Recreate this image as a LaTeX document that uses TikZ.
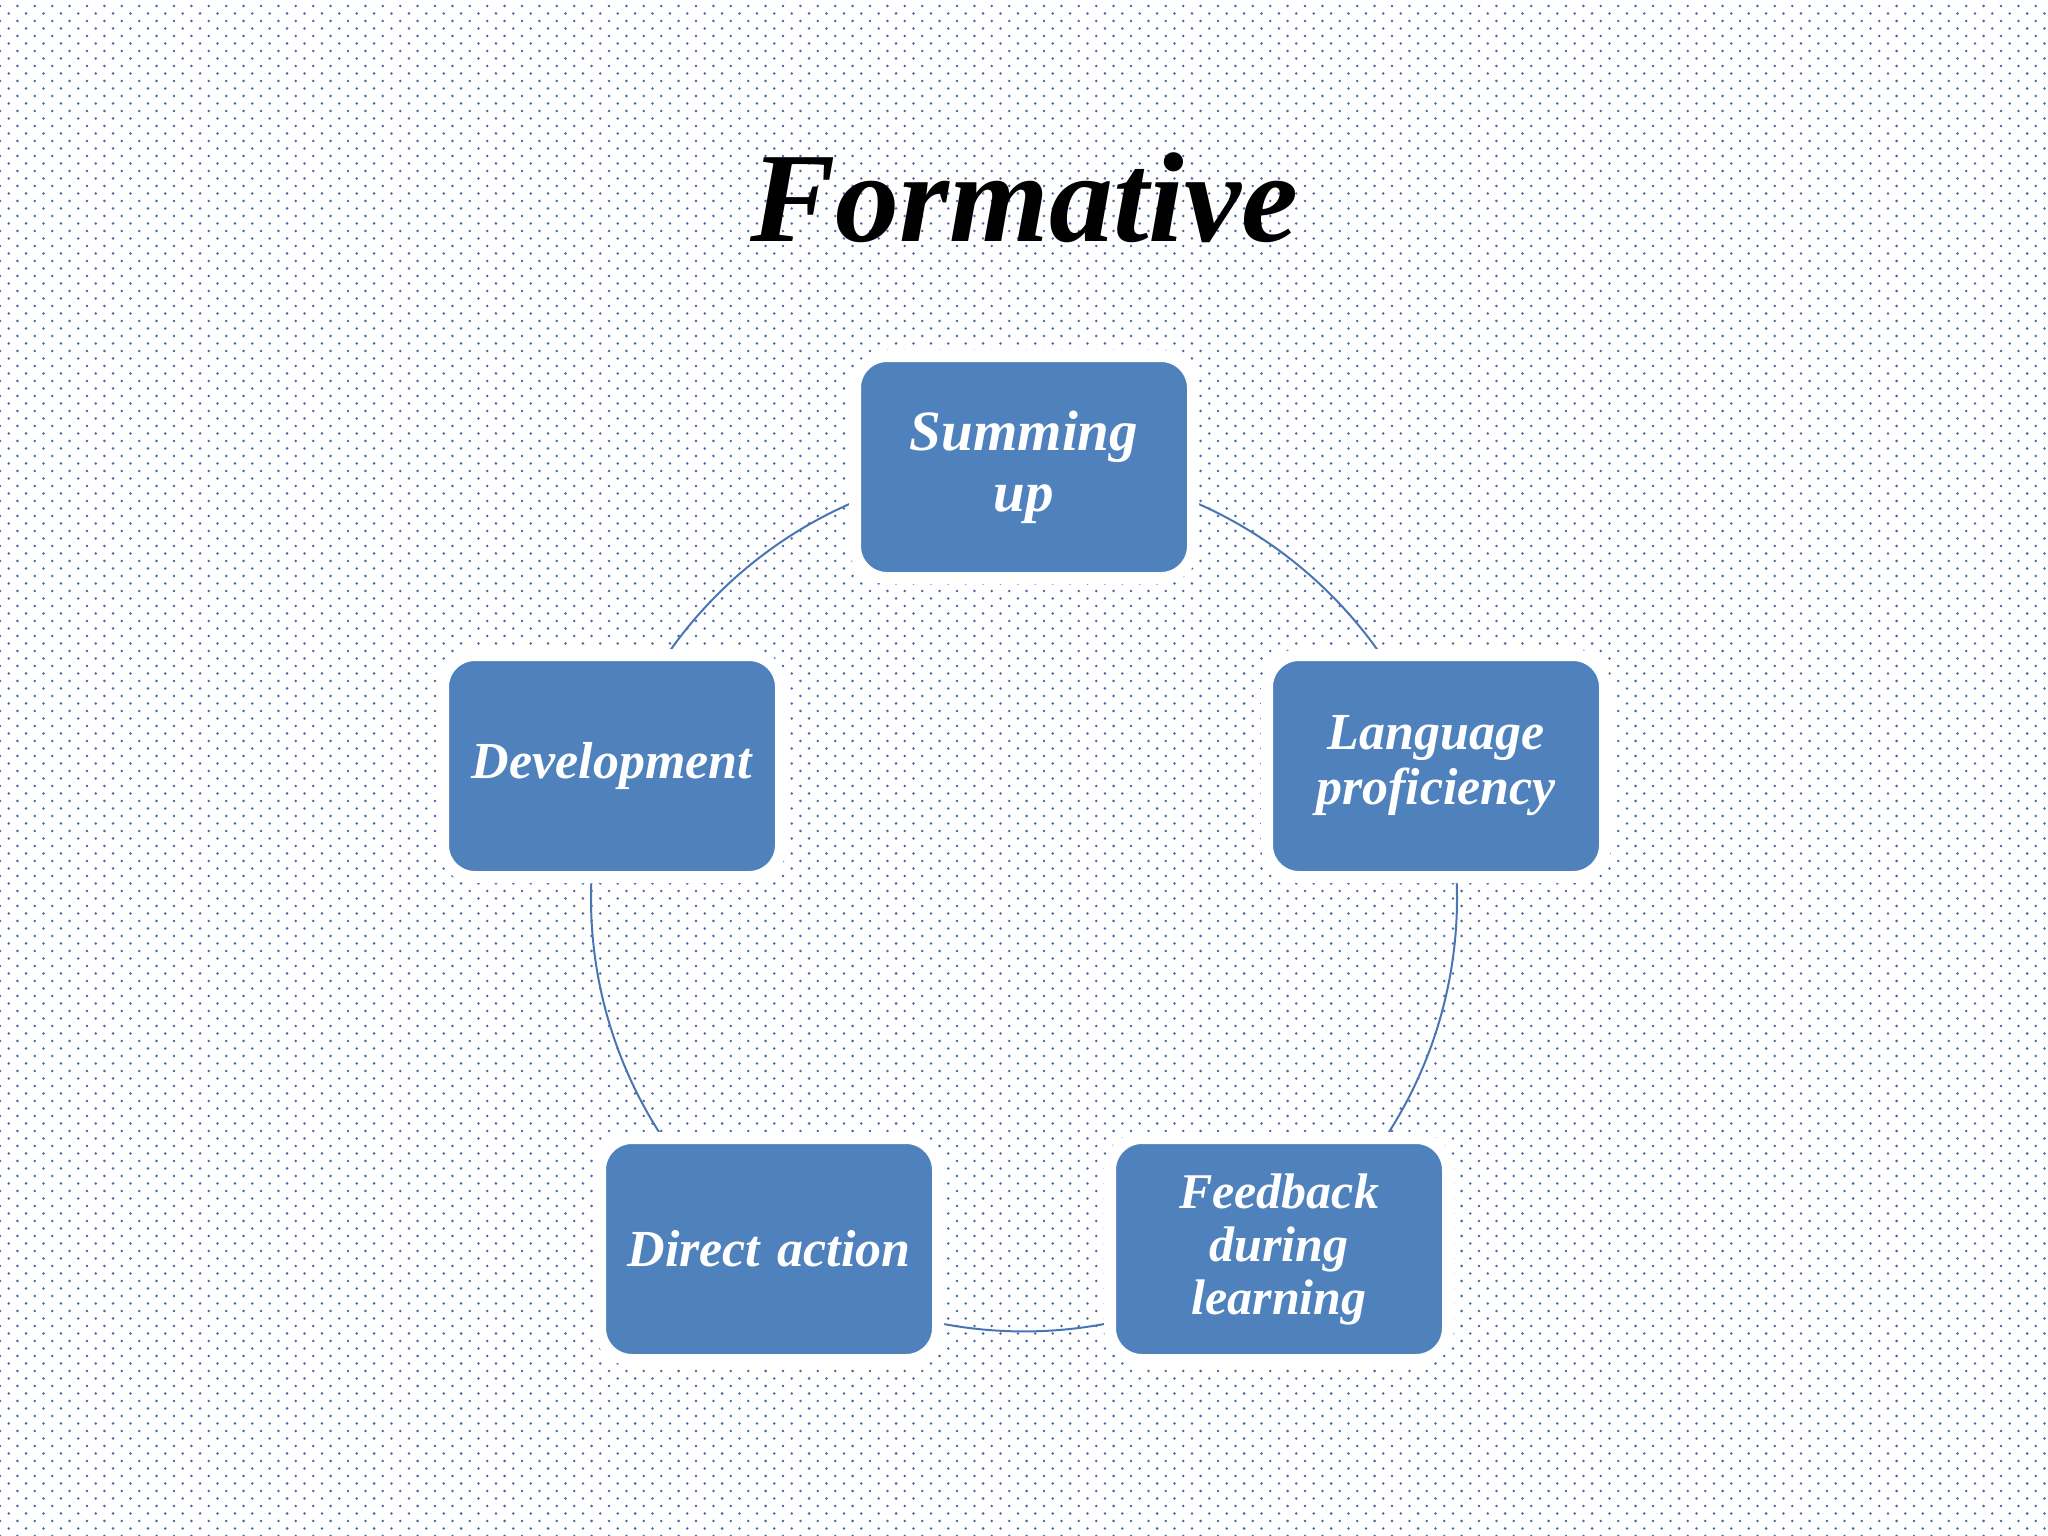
\documentclass[tikz,border=0pt]{standalone}
\usepackage{fontspec}
\setmainfont{Liberation Serif}
\usetikzlibrary{patterns}
\definecolor{boxblue}{HTML}{4F81BD}
\definecolor{dotblue}{HTML}{4269AD}
\definecolor{arcblue}{HTML}{4A75B5}
\pgfdeclarelayer{bg}
\pgfsetlayers{bg,main}
\pgfdeclarepatternformonly{bgdots}{\pgfqpoint{-2pt}{-2pt}}{\pgfqpoint{19.4pt}{17pt}}{\pgfqpoint{17.4pt}{15pt}}{%
  \pgfpathcircle{\pgfqpoint{0pt}{0pt}}{1.4pt}%
  \pgfpathcircle{\pgfqpoint{8.7pt}{7.5pt}}{1.4pt}%
  \pgfusepath{fill}}
\tikzset{
  box/.style={rectangle, rounded corners=32pt, fill=boxblue, draw=white, line width=12pt,
    minimum width=338pt, minimum height=222pt, text width=310pt, align=center,
    font=\fontsize{52}{55}\selectfont\bfseries\itshape, text=white, inner sep=0pt},
  arcline/.style={draw=arcblue, line width=2pt, bend left=36, looseness=0.94},
  titlestyle/.style={font=\fontsize{128}{128}\selectfont\bfseries\itshape, text=black, inner sep=0pt}
}
\begin{document}
\begin{tikzpicture}[x=1pt, y=-1pt]
  \useasboundingbox (0,0) rectangle (2048,1536);
  \node[titlestyle] (title) at (1024,198) {Formative};
  \node[box, font=\fontsize{57}{61}\selectfont\bfseries\itshape] (sum) at (1024,467) {Summing\\up};
  \node[box] (lang) at (1436,766) {Language\\proficiency};
  \node[box, font=\fontsize{50}{53}\selectfont\bfseries\itshape] (feed) at (1279,1249) {Feedback\\during\\learning};
  \node[box] (direct) at (769,1249) {Direct action};
  \node[box] (dev) at (612,766) {Development};
  \begin{pgfonlayer}{bg}
    \fill[white] (0,0) rectangle (2048,1536);
    \fill[pattern=bgdots, pattern color=dotblue] (0,0) rectangle (2048,1536);
    \draw[arcline] (sum.center) to (lang.center);
    \draw[arcline] (lang.center) to (feed.center);
    \draw[arcline] (feed.center) to (direct.center);
    \draw[arcline] (direct.center) to (dev.center);
    \draw[arcline] (dev.center) to (sum.center);
  \end{pgfonlayer}
\end{tikzpicture}
\end{document}
